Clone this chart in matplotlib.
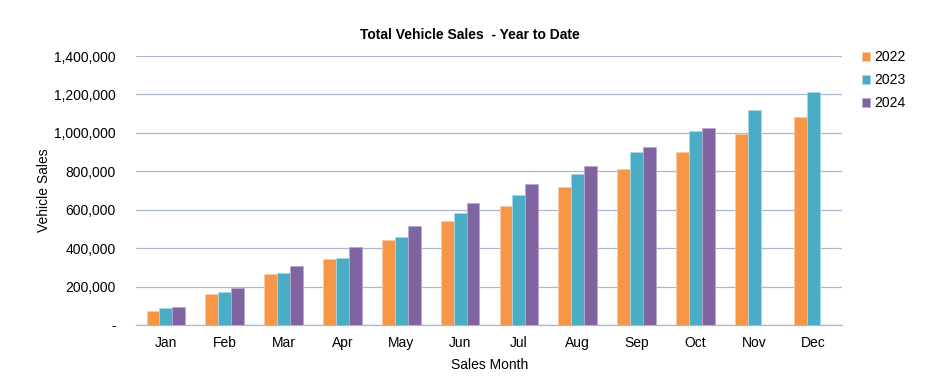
import matplotlib
matplotlib.use("Agg")
import matplotlib.pyplot as plt
import numpy as np
from matplotlib.ticker import FuncFormatter, MultipleLocator

plt.rcParams['font.family'] = ['Liberation Sans', 'DejaVu Sans']

months = ["Jan", "Feb", "Mar", "Apr", "May", "Jun", "Jul", "Aug", "Sep", "Oct", "Nov", "Dec"]
sales_2022 = [75000, 161000, 265000, 344000, 442000, 541000, 621000, 717000, 810000, 900000, 994000, 1081000]
sales_2023 = [87000, 172000, 271000, 350000, 458000, 581000, 677000, 788000, 899000, 1008000, 1119000, 1214000]
sales_2024 = [92000, 194000, 307000, 404000, 515000, 633000, 734000, 829000, 927000, 1024000, None, None]
series_names = ["2022", "2023", "2024"]
colors = ["#F79646", "#4BACC6", "#8064A2"]
edge_colors = ["#FBC9A4", "#A9D8E5", "#B9A8CE"]

fig = plt.figure(figsize=(9.37, 3.84), dpi=100)
ax = fig.add_axes([136.5 / 937, 1 - 325 / 384, 706 / 937, 269 / 384])

x = np.arange(len(months))
w = 0.22
for i, (vals, name) in enumerate(zip([sales_2022, sales_2023, sales_2024], series_names)):
    xs = [xi for xi, v in zip(x, vals) if v is not None]
    vs = [v for v in vals if v is not None]
    ax.bar(np.array(xs) + (i - 1) * w, vs, width=w, color=colors[i],
           edgecolor=edge_colors[i], linewidth=0.6, label=name, zorder=3)

ax.set_xlim(-0.5, len(months) - 0.5)
ax.set_ylim(0, 1400000)
ax.yaxis.set_major_locator(MultipleLocator(200000))
ax.yaxis.set_major_formatter(FuncFormatter(lambda v, p: "-" if v == 0 else f"{int(v):,}"))
ax.set_xticks(x)
ax.set_xticklabels(months)
ax.grid(axis='y', color='#A9B8CF', linewidth=0.9, zorder=0)
for s in ['top', 'right', 'left']:
    ax.spines[s].set_visible(False)
ax.spines['bottom'].set_color('#A9B8CF')
ax.spines['bottom'].set_linewidth(0.9)
ax.tick_params(axis='both', length=0, labelsize=10, colors='#000000')
ax.tick_params(axis='y', pad=15)
ax.tick_params(axis='x', pad=8)

ax.set_xlabel("Sales Month", fontsize=10, labelpad=6)
ax.set_ylabel("Vehicle Sales", fontsize=10, labelpad=2)
fig.text(470 / 937, 1 - 35 / 384, "Total Vehicle Sales  - Year to Date", ha='center', va='center',
         fontsize=10, fontweight='bold')

leg = ax.legend(loc='upper left', bbox_to_anchor=(862 / 937, 1 - 50 / 384), bbox_transform=fig.transFigure,
                frameon=False, fontsize=10, handlelength=0.6, handleheight=0.6, handletextpad=0.3,
                labelspacing=0.65, borderaxespad=0, borderpad=0)

fig.savefig("out.png", dpi=100)
